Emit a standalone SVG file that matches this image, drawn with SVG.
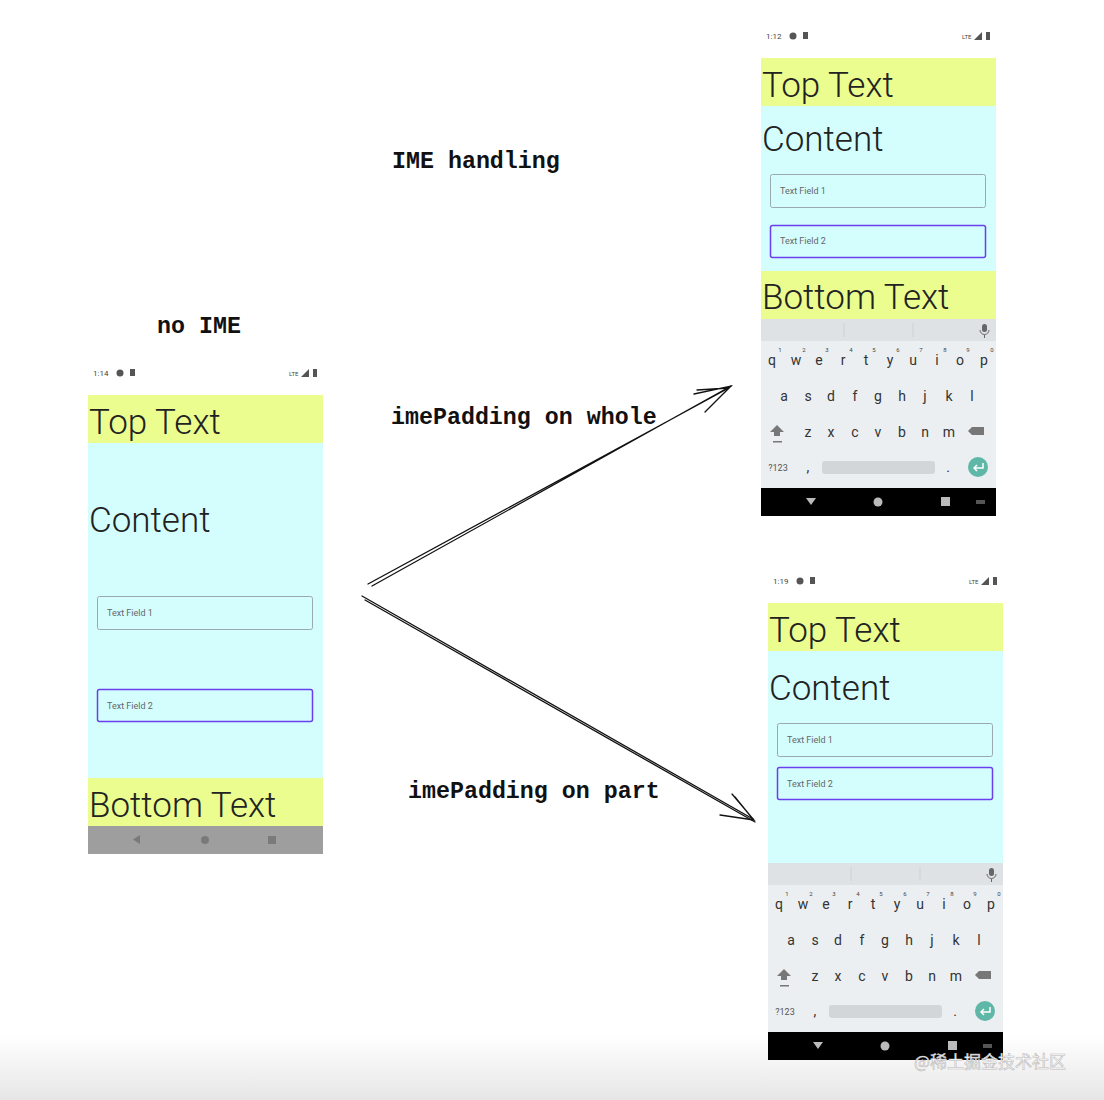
<svg xmlns="http://www.w3.org/2000/svg" width="1104" height="1100" viewBox="0 0 1104 1100">
<style>
.lbl{font-family:"Liberation Mono",monospace;font-weight:bold;font-size:23.3px;fill:#111}
.big{font-family:Roboto,"Noto Sans",sans-serif;font-weight:300;font-size:35px;fill:#222}
.tf{font-family:Roboto,sans-serif;font-size:9px;fill:#666}
.st{font-family:Roboto,sans-serif;font-size:8px;fill:#444}
.k{font-family:Roboto,sans-serif;font-size:14px;fill:#333;text-anchor:middle}
.d{font-family:Roboto,sans-serif;font-size:6px;fill:#444;text-anchor:middle}
.y{fill:#ebfd8e}.c{fill:#d4fefe}
.arr{fill:none;stroke:#111;stroke-width:1.3;stroke-linecap:round}
</style>
<defs>
<linearGradient id="bg" x1="0" y1="0" x2="0" y2="1"><stop offset="0" stop-color="#fff"/><stop offset="1" stop-color="#e6e6e6"/></linearGradient>
<g id="kb">
<rect x="0" y="0" width="235" height="22" fill="#dfe2e5"/>
<rect x="0" y="22" width="235" height="147" fill="#eceff1"/>
<line x1="83" y1="4" x2="83" y2="18" stroke="#cfd2d5"/><line x1="152" y1="4" x2="152" y2="18" stroke="#cfd2d5"/>
<rect x="221" y="5" width="5" height="8" rx="2.5" fill="#666"/><path d="M219 11 a4.5 4.5 0 0 0 9 0 M223.5 16 v3" stroke="#666" fill="none"/>
<g class="d"><text x="19" y="33">1</text><text x="43" y="33">2</text><text x="66" y="33">3</text><text x="90" y="33">4</text><text x="113" y="33">5</text><text x="137" y="33">6</text><text x="160" y="33">7</text><text x="184" y="33">8</text><text x="207" y="33">9</text><text x="231" y="33">0</text></g>
<g class="k"><text x="11" y="46">q</text><text x="35" y="46">w</text><text x="58" y="46">e</text><text x="82" y="46">r</text><text x="105" y="46">t</text><text x="129" y="46">y</text><text x="152" y="46">u</text><text x="176" y="46">i</text><text x="199" y="46">o</text><text x="223" y="46">p</text>
<text x="23" y="82">a</text><text x="47" y="82">s</text><text x="70" y="82">d</text><text x="94" y="82">f</text><text x="117" y="82">g</text><text x="141" y="82">h</text><text x="164" y="82">j</text><text x="188" y="82">k</text><text x="211" y="82">l</text>
<text x="47" y="118">z</text><text x="70" y="118">x</text><text x="94" y="118">c</text><text x="117" y="118">v</text><text x="141" y="118">b</text><text x="164" y="118">n</text><text x="188" y="118">m</text>
<text x="47" y="153">,</text><text x="187" y="153">.</text></g>
<path d="M16 106 l-7 7 h4 v4 h6 v-4 h4 z" fill="#777"/><rect x="12" y="122" width="9" height="1.5" fill="#777"/>
<path d="M211 108 h12 v8 h-12 l-4 -4 z" fill="#777"/>
<text x="17" y="152" style="font-family:Roboto,sans-serif;font-size:9px;fill:#555" text-anchor="middle">?123</text>
<rect x="61" y="142" width="113" height="13" rx="3" fill="#d3d6d9"/>
<circle cx="217" cy="148" r="10" fill="#5eb7a7"/><path d="M222 144 v5 h-9 m3 -3 l-3 3 l3 3" stroke="#fff" stroke-width="1.5" fill="none"/>
<rect x="0" y="169" width="235" height="28" fill="#000"/>
<path d="M45 179 h10 l-5 7 z" fill="#bbb"/><circle cx="117" cy="183" r="4.5" fill="#bbb"/><rect x="180" y="178" width="9" height="9" fill="#bbb"/>
<rect x="215" y="181" width="9" height="4" fill="#555"/>
</g>
</defs>
<rect width="1104" height="1100" fill="#fff"/>
<rect y="1035" width="1104" height="65" fill="url(#bg)"/>

<g id="labels">
<text class="lbl" x="392" y="168">IME handling</text>
<text class="lbl" x="157" y="333">no IME</text>
<text class="lbl" x="391" y="424">imePadding on whole</text>
<text class="lbl" x="408" y="798">imePadding on part</text>
</g>

<g id="phone-no-ime">
<text class="st" x="93" y="376">1:14</text><circle cx="120" cy="373" r="3.5" fill="#555"/><rect x="130" y="369" width="5" height="7" fill="#555"/>
<text class="st" x="289" y="376" style="font-size:6px">LTE</text><path d="M301 377 l8 -8 v8 z" fill="#555"/><rect x="313" y="369" width="4" height="8" fill="#555"/>
<rect class="y" x="88" y="395" width="235" height="48"/>
<text class="big" x="89" y="434">Top Text</text>
<rect class="c" x="88" y="443" width="235" height="335"/>
<text class="big" x="89" y="532">Content</text>
<rect x="97.5" y="596.5" width="215" height="33" rx="2" fill="none" stroke="#9aa9ad"/>
<text class="tf" x="107" y="616">Text Field 1</text>
<rect x="97.5" y="689.5" width="215" height="32" rx="2" fill="none" stroke="#6a3ff0" stroke-width="1.5"/>
<text class="tf" x="107" y="709">Text Field 2</text>
<rect class="y" x="88" y="778" width="235" height="48"/>
<text class="big" x="89" y="817">Bottom Text</text>
<rect x="88" y="826" width="235" height="28" fill="#9e9e9e"/>
<path d="M140 835 v9 l-7 -4.5 z" fill="#7a7a7a"/><circle cx="205" cy="840" r="4" fill="#7a7a7a"/><rect x="268" y="836" width="8" height="8" fill="#7a7a7a"/>
</g>

<g id="phone-whole">
<text class="st" x="766" y="39">1:12</text><circle cx="793" cy="36" r="3.5" fill="#555"/><rect x="803" y="32" width="5" height="7" fill="#555"/>
<text class="st" x="962" y="39" style="font-size:6px">LTE</text><path d="M974 40 l8 -8 v8 z" fill="#555"/><rect x="986" y="32" width="4" height="8" fill="#555"/>
<rect class="y" x="761" y="58" width="235" height="48"/>
<text class="big" x="762" y="97">Top Text</text>
<rect class="c" x="761" y="106" width="235" height="165"/>
<text class="big" x="762" y="151">Content</text>
<rect x="770.5" y="174.5" width="215" height="33" rx="2" fill="none" stroke="#9aa9ad"/>
<text class="tf" x="780" y="194">Text Field 1</text>
<rect x="770.5" y="225.5" width="215" height="32" rx="2" fill="none" stroke="#6a3ff0" stroke-width="1.5"/>
<text class="tf" x="780" y="244">Text Field 2</text>
<rect class="y" x="761" y="271" width="235" height="48"/>
<text class="big" x="762" y="309">Bottom Text</text>
<use href="#kb" x="761" y="319"/>
</g>

<g id="phone-part">
<text class="st" x="773" y="584">1:19</text><circle cx="800" cy="581" r="3.5" fill="#555"/><rect x="810" y="577" width="5" height="7" fill="#555"/>
<text class="st" x="969" y="584" style="font-size:6px">LTE</text><path d="M981 585 l8 -8 v8 z" fill="#555"/><rect x="993" y="577" width="4" height="8" fill="#555"/>
<rect class="y" x="768" y="603" width="235" height="48"/>
<text class="big" x="769" y="642">Top Text</text>
<rect class="c" x="768" y="651" width="235" height="212"/>
<text class="big" x="769" y="700">Content</text>
<rect x="777.5" y="723.5" width="215" height="33" rx="2" fill="none" stroke="#9aa9ad"/>
<text class="tf" x="787" y="743">Text Field 1</text>
<rect x="777.5" y="767.5" width="215" height="32" rx="2" fill="none" stroke="#6a3ff0" stroke-width="1.5"/>
<text class="tf" x="787" y="787">Text Field 2</text>
<use href="#kb" x="768" y="863"/>
</g>

<g id="connectors">
<path class="arr" d="M368 584 L727 389 M372 586 L731 386"/>
<path class="arr" d="M694 394 L731 386 L705 412 M697 390 L729 388"/>
<path class="arr" d="M362 596 L753 819 M365 600 L755 822"/>
<path class="arr" d="M732 794 L754 820 L720 815 M735 797 L752 818"/>
</g>

<text x="914" y="1068" style="font-family:'Noto Sans CJK SC',sans-serif;font-size:17px;fill:#fff;stroke:#bbb;stroke-width:0.6">@稀土掘金技术社区</text>
</svg>
